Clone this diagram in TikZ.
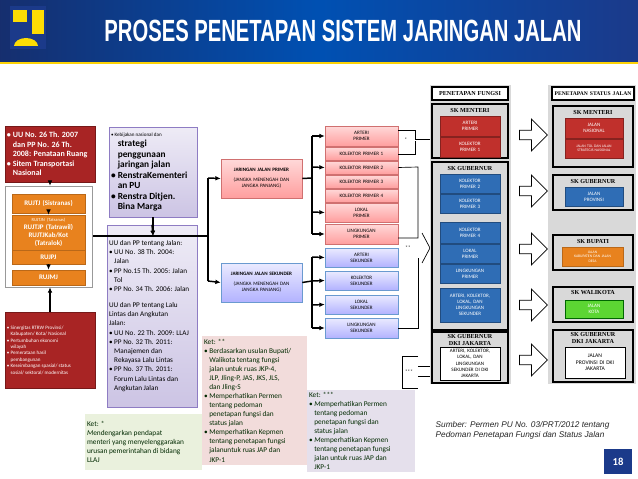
\documentclass[tikz,border=0pt]{standalone}
\usepackage{fontspec}
\setmainfont{Carlito}
\newfontfamily\hdfont{Liberation Sans}
\newfontfamily\srf{Liberation Serif}
\usetikzlibrary{arrows.meta,shapes.arrows}
\definecolor{navy}{HTML}{1B3A8A}
\definecolor{dred}{HTML}{A82424}
\definecolor{orng}{HTML}{E8821E}
\definecolor{prp}{HTML}{8E7CC3}
\definecolor{pnkb}{HTML}{D07070}
\definecolor{blub}{HTML}{6A9AD0}
\definecolor{dblu}{HTML}{2F6DB5}
\definecolor{pred}{HTML}{C0302C}
\definecolor{ketA}{HTML}{EAF1DD}
\definecolor{ketB}{HTML}{F2DCDB}
\definecolor{ketC}{HTML}{E5E0EC}
\definecolor{panel}{HTML}{D9D9D9}
\newcommand\bx[7]{\pgfmathsetmacro\bw{(#4-#2)*0.75}\pgfmathsetmacro\bh{(#5-#3)*0.75}\pgfmathsetmacro\tw{max((#4-#2-4)*0.75,1)}%
\node[inner sep=0pt, minimum width=\bw pt, minimum height=\bh pt, text width=\tw pt, align=center, #6] (#1) at ({(#2+#4)/2},{(#3+#5)/2}) {#7};}
\newcommand\bl{\textbullet\ }
\newcommand\ind{\phantom{\textbullet\ }}
\tikzset{
 tiny/.style={font=\fontsize{3.8}{4.6}\selectfont},
 redb/.style={fill=dred, draw=dred!70!black, text=white, font=\bfseries\fontsize{6}{7.2}\selectfont, align=flush left},
 orb/.style={fill=orng, draw=orng!80!black, text=white, font=\bfseries\fontsize{5.2}{6}\selectfont},
 prpb/.style={top color=prp!15, bottom color=prp!45, draw=prp, align=flush left},
 pnk/.style={top color=red!15, bottom color=red!38, draw=pnkb, tiny},
 lbl/.style={top color=blue!8, bottom color=blue!30, draw=blub, tiny},
 pr/.style={fill=pred, draw=pred!70!black, text=white, tiny},
 db/.style={fill=dblu, draw=dblu!70!black, text=white, tiny},
 skbox/.style={draw=black, line width=1.1pt},
 skt/.style={font=\srf\bfseries\fontsize{4.6}{5.2}\selectfont},
 arr/.style={-{Latex[length=4pt,width=3.5pt]}, line width=1.1pt},
 ln/.style={line width=1.1pt},
 thin/.style={line width=0.5pt},
 ket/.style={align=flush left, text=black!60!green!40!black, font=\fontsize{5.5}{6.8}\selectfont},
 hollow/.style={single arrow, draw=black, fill=white, line width=0.6pt, minimum height=21pt, minimum width=24pt, single arrow head extend=3pt, inner sep=1pt},
}
\begin{document}
\begin{tikzpicture}[x=0.75pt,y=-0.75pt]
\useasboundingbox (0,0) rectangle (638,478);
\fill[white] (0,0) rectangle (638,478);
% header
\shade[left color=navy!80!black, right color=navy, middle color=blue!55!cyan!70!black] (0,0) rectangle (638,62);
\fill[yellow!70!orange] (0,62) rectangle (638,64);
\fill[navy] (10,6) rectangle (46,49);
\fill[yellow!80!orange] (13,10) rectangle (27,22);
\fill[yellow!80!orange] (32,10) rectangle (44,34);
\fill[yellow!80!orange] (14,46) arc (180:360:12 and 8) -- cycle;
\node[font=\hdfont\bfseries\fontsize{23}{23}\selectfont, text=white, xscale=0.66, draw=none] (title) at (343,31) {PROSES PENETAPAN SISTEM JARINGAN JALAN};
% left column
\bx{r1}{5}{126}{95}{182}{redb}{\bl UU No. 26 Th. 2007\\\ind dan PP No. 26 Th.\\\ind 2008: Penataan Ruang\\\bl Sitem Transportasi\\\ind Nasional}
\bx{outer}{5}{186}{92}{287}{draw=black!40,fill=white}{}
\bx{o1}{12}{194}{85}{213}{orb}{RUJTJ (Sistranas)}
\bx{o2}{12}{215}{85}{250}{orb}{{\fontsize{3.4}{4}\selectfont\mdseries RUJTJN (Tatranas)}\\RUJTJP (Tatrawil)\\RUJTJKab/Kot\\(Tatralok)}
\bx{o3}{12}{250}{85}{264}{orb}{RUJPJ}
\bx{o4}{12}{270}{85}{285}{orb}{RUJMJ}
\draw[arr] (o1.south) -- (o2.north);
\draw[arr] (o3.south) -- (o4.north);
\bx{r2}{5}{312}{95}{388}{redb,font=\fontsize{3.8}{4.8}\selectfont}{\bl Sinergitas RTRW Provinsi/\\\ind Kabupaten/ Kota/ Nasional\\\bl Pertumbuhan ekonomi\\\ind wilayah\\\bl Pemerataan hasil\\\ind pembangunan\\\bl Keseimbangan spasial/ status\\\ind sosial/ sektoral/ modernitas}
\draw[arr] (r1.south) -- (outer.north -| r1.south);
\draw[arr] (r2.north) -- (outer.south -| r2.north);
% purple boxes
\bx{p1}{109}{127}{197}{217}{prpb,font=\bfseries\fontsize{7}{7.9}\selectfont}{{\mdseries\fontsize{3.8}{4}\selectfont\bl Kebijakan nasional dan}\\\ind strategi\\\ind penggunaan\\\ind jaringan jalan\\\bl RenstraKementeri\\\ind an PU\\\bl Renstra Ditjen.\\\ind Bina Marga}
\bx{p2}{107}{225}{197}{407}{prpb,font=\fontsize{5.4}{6.9}\selectfont}{UU dan PP tentang Jalan:\\\bl UU No. 38 Th. 2004:\\\ind Jalan\\\bl PP No.15 Th. 2005: Jalan\\\ind Tol\\\bl PP No. 34 Th. 2006: Jalan\\[5pt]UU dan PP tentang Lalu\\Lintas dan Angkutan\\Jalan:\\\bl UU No. 22 Th. 2009: LLAJ\\\bl PP No. 32 Th. 2011:\\\ind Manajemen dan\\\ind Rekayasa Lalu Lintas\\\bl PP No. 37 Th. 2011:\\\ind Forum Lalu Lintas dan\\\ind Angkutan Jalan}
\coordinate (hl) at (93,236);
\coordinate (hm) at (153,236);
\coordinate (hr) at (208,236);
\draw[ln] (hl) -- (hr);
\draw[arr] (p1.south) -- (hm);
\draw[arr] (p2.north) -- (hm);
% jaringan boxes
\bx{jjp}{221}{159}{302}{198}{pnk}{\textbf{JARINGAN JALAN PRIMER}\\[3pt](JANGKA MENENGAH DAN\\JANGKA PANJANG)}
\bx{jjs}{221}{263}{302}{302}{lbl}{\textbf{JARINGAN JALAN SEKUNDER}\\[3pt](JANGKA MENENGAH DAN\\JANGKA PANJANG)}
\coordinate (vt) at (208,178);
\coordinate (vb) at (208,281);
\draw[ln] (vt) -- (vb);
\draw[arr] (vt) -- (jjp.west);
\draw[arr] (vb) -- (jjs.west);
% primer list
\bx{ap}{325}{126}{398}{146}{pnk}{ARTERI\\PRIMER}
\bx{kp1}{325}{147}{398}{160}{pnk}{KOLEKTOR PRIMER 1}
\bx{kp2}{325}{161}{398}{174}{pnk}{KOLEKTOR PRIMER 2}
\bx{kp3}{325}{175}{398}{188}{pnk}{KOLEKTOR PRIMER 3}
\bx{kp4}{325}{189}{398}{202}{pnk}{KOLEKTOR PRIMER 4}
\bx{lp}{325}{203}{398}{222}{pnk}{LOKAL\\PRIMER}
\bx{lgp}{325}{224}{398}{244}{pnk}{LINGKUNGAN\\PRIMER}
\bx{as}{325}{248}{398}{267}{lbl}{ARTERI\\SEKUNDER}
\bx{ks}{325}{271}{398}{290}{lbl}{KOLEKTOR\\SEKUNDER}
\bx{ls}{325}{295}{398}{314}{lbl}{LOKAL\\SEKUNDER}
\bx{lgs}{325}{318}{398}{338}{lbl}{LINGKUNGAN\\SEKUNDER}
\coordinate (tp1) at (312,136); \coordinate (tp2) at (312,234);
\draw[ln] (jjp.east) -- (312,178);
\draw[ln] (tp1) -- (tp2);
\draw[arr] (tp1) -- (ap.west);
\draw[arr] (312,167) -- (kp2.west);
\draw[arr] (312,212) -- (lp.west);
\draw[arr] (tp2) -- (lgp.west);
\coordinate (ts1) at (312,257); \coordinate (ts2) at (312,328);
\draw[ln] (jjs.east) -- (312,281);
\draw[ln] (ts1) -- (ts2);
\draw[arr] (ts1) -- (as.west);
\draw[arr] (312,281) -- (ks.west);
\draw[arr] (312,305) -- (ls.west);
\draw[arr] (ts2) -- (lgs.west);
% brackets
\draw[thin] (398,130) -| (415,154) -- (398,154);
\node[tiny] (s1) at (406,140) {*};
\draw[thin,double] (415,140) -- (430,140);
\draw[thin] (kp2.east) -- (418,167) -- (418,238) -- (398,238);
\draw[thin] (lgs.east) -- (418,328) -- (418,258);
\node[tiny] (s2) at (408,248) {**};
\draw[thin] (422,233) -- (430,248) -- (422,263);
\draw[thin] (418,356) -- (402,356) -- (402,388) -- (418,388);
\node[tiny] (s3) at (409,372) {***};
\draw[thin,double] (418,367) -- (430,367);
\draw[thin,double] (418,377) -- (430,377);
% penetapan fungsi panel
\fill[panel] (430,85) rectangle (511,384);
\bx{hf}{432}{87}{508}{100}{skbox,fill=white,skt}{PENETAPAN FUNGSI}
\bx{skm}{432}{104}{508}{158}{skbox}{}
\node[skt] (skmt) at (470,110) {SK MENTERI};
\bx{f1}{440}{116}{500}{136}{pr}{ARTERI\\PRIMER}
\bx{f2}{440}{137}{500}{157}{pr}{KOLEKTOR\\PRIMER 1}
\bx{skg}{432}{162}{508}{330}{skbox}{}
\node[skt] (skgt) at (470,168) {SK GUBERNUR};
\bx{g1}{440}{174}{500}{193}{db}{KOLEKTOR\\PRIMER 2}
\bx{g2}{440}{194}{500}{213}{db}{KOLEKTOR\\PRIMER 3}
\bx{g3}{440}{222}{500}{243}{db}{KOLEKTOR\\PRIMER 4}
\bx{g4}{440}{244}{500}{263}{db}{LOKAL\\PRIMER}
\bx{g5}{440}{264}{500}{283}{db}{LINGKUNGAN\\PRIMER}
\bx{g6}{440}{288}{500}{322}{db}{ARTERI, KOLEKTOR,\\LOKAL, DAN\\LINGKUNGAN\\SEKUNDER}
\bx{skd}{432}{332}{508}{383}{skbox}{}
\node[skt,align=center] (skdt) at (470,340) {SK GUBERNUR\\DKI JAKARTA};
\bx{d1}{440}{347}{500}{380}{draw=black,fill=white,tiny}{ARTERI, KOLEKTOR,\\LOKAL, DAN\\LINGKUNGAN\\SEKUNDER DI DKI\\JAKARTA}
% hollow arrows
\node[hollow] (h1) at (531,135) {};
\node[hollow] (h2) at (531,191) {};
\node[hollow] (h3) at (531,249) {};
\node[hollow] (h4) at (531,305) {};
\node[hollow] (h5) at (531,360) {};
% status panel
\fill[panel] (548,85) rectangle (636,384);
\bx{hs}{552}{87}{634}{100}{skbox,fill=white,skt,font=\srf\bfseries\fontsize{4.2}{5}\selectfont}{PENETAPAN STATUS JALAN}
\bx{sm}{553}{106}{633}{167}{skbox}{}
\node[skt] (smt) at (593,112) {SK MENTERI};
\bx{n1}{565}{118}{623}{138}{pr}{JALAN\\NASIONAL}
\bx{n2}{565}{139}{623}{158}{pr,font=\fontsize{2.8}{3.4}\selectfont}{JALAN TOL DAN JALAN\\STRATEGIS NASIONAL}
\bx{sg}{553}{175}{633}{210}{skbox}{}
\node[skt] (sgt) at (593,181) {SK GUBERNUR};
\bx{n3}{565}{187}{623}{206}{db}{JALAN\\PROVINSI}
\bx{sb}{553}{235}{633}{270}{skbox}{}
\node[skt] (sbt) at (593,241) {SK BUPATI};
\bx{n4}{562}{247}{623}{266}{fill=orng,draw=orng!80!black,text=white,font=\fontsize{2.8}{3.4}\selectfont}{JALAN\\KABUPATEN DAN JALAN\\DESA}
\bx{sw}{553}{287}{633}{322}{skbox}{}
\node[skt] (swt) at (593,293) {SK WALIKOTA};
\bx{n5}{565}{300}{623}{318}{fill=green!60!olive!80,draw=green!40!black,text=white,tiny}{JALAN\\KOTA}
\bx{sd}{553}{330}{633}{382}{skbox}{}
\node[skt,align=center] (sdt) at (593,338) {SK GUBERNUR\\DKI JAKARTA};
\bx{n6}{565}{347}{625}{378}{draw=black,fill=white,font=\fontsize{4.2}{5}\selectfont}{JALAN\\PROVINSI DI DKI\\JAKARTA}
% ket boxes
\bx{ka}{85}{414}{202}{470}{fill=ketA,ket}{Ket: *\\\textit{M}endengarkan pendapat\\menteri yang menyelenggarakan\\urusan pemerintahan di bidang\\LLAJ}
\bx{kb}{202}{336}{307}{465}{fill=ketB,ket}{Ket: **\\\bl Berdasarkan usulan Bupati/\\\ind Walikota tentang fungsi\\\ind jalan untuk ruas JKP-4,\\\ind JLP, Jling-P, JAS, JKS, JLS,\\\ind dan Jling-S\\\bl Memperhatikan Permen\\\ind tentang pedoman\\\ind penetapan fungsi dan\\\ind status jalan\\\bl Memperhatikan Kepmen\\\ind tentang penetapan fungsi\\\ind jalanuntuk ruas JAP dan\\\ind JKP-1}
\bx{kc}{307}{390}{415}{472}{fill=ketC,ket}{Ket: ***\\\bl \textit{M}emperhatikan Permen\\\ind tentang pedoman\\\ind penetapan fungsi dan\\\ind status jalan\\\bl \textit{M}emperhatikan Kepmen\\\ind tentang penetapan fungsi\\\ind jalan untuk ruas JAP dan\\\ind JKP-1}
\node[font=\hdfont\itshape\fontsize{6.2}{7.6}\selectfont, align=left, anchor=west, text=black!85] (src) at (431,430) {Sumber: Permen PU No. 03/PRT/2012 tentang\\Pedoman Penetapan Fungsi dan Status Jalan};
\bx{pg}{604}{449}{632}{474}{fill=navy,text=white,font=\bfseries\fontsize{8}{9}\selectfont}{18}
\end{tikzpicture}
\end{document}
